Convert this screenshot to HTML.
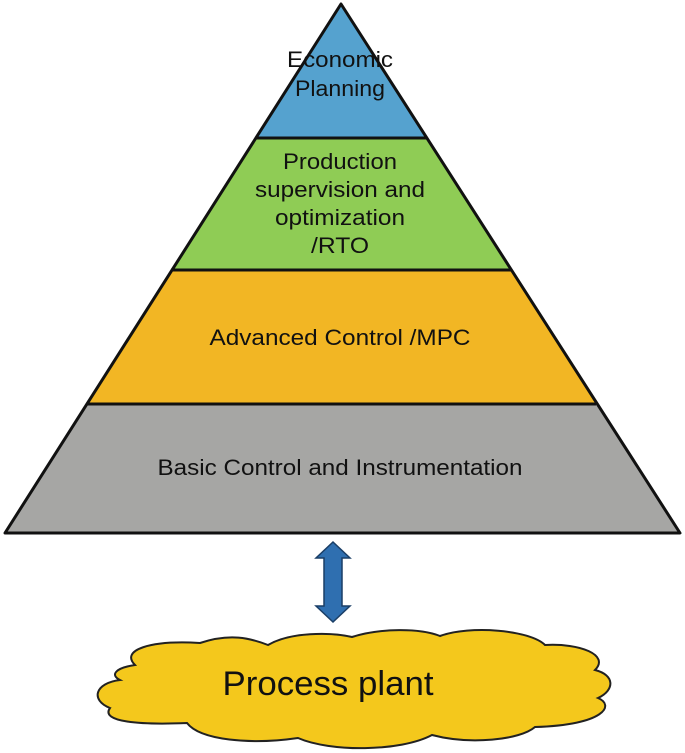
<!DOCTYPE html>
<html><head><style>body{margin:0;background:#fff}svg{display:block}</style></head>
<body>
<svg width="685" height="753" viewBox="0 0 685 753" xmlns="http://www.w3.org/2000/svg" font-family="Liberation Sans, sans-serif">
<polygon points="5,533 680,533 596,404 86,404" fill="#a6a6a4"/>
<polygon points="86,404 596,404 511,270 171,270" fill="#f2b624"/>
<polygon points="171,270 511,270 427,138 256,138" fill="#8fcc55"/>
<polygon points="256,138 427,138 341,4" fill="#55a2cf"/>
<g stroke="#111" stroke-width="3" fill="none">
<polygon points="341,4 680,533 5,533" stroke-linejoin="round"/>
<line x1="256" y1="138" x2="427" y2="138"/>
<line x1="171" y1="270" x2="511" y2="270"/>
<line x1="86" y1="404" x2="596" y2="404"/>
</g>
<g font-size="22" fill="#111" text-anchor="middle" textLength="1">
<text x="340" y="67" textLength="106" lengthAdjust="spacingAndGlyphs">Economic</text>
<text x="340" y="96" textLength="90" lengthAdjust="spacingAndGlyphs">Planning</text>
<text x="340" y="169" textLength="114" lengthAdjust="spacingAndGlyphs">Production</text>
<text x="340" y="197" textLength="170" lengthAdjust="spacingAndGlyphs">supervision and</text>
<text x="340" y="225" textLength="130" lengthAdjust="spacingAndGlyphs">optimization</text>
<text x="340" y="253" textLength="58" lengthAdjust="spacingAndGlyphs">/RTO</text>
<text x="340" y="345" textLength="261" lengthAdjust="spacingAndGlyphs">Advanced Control /MPC</text>
<text x="340" y="475" textLength="365" lengthAdjust="spacingAndGlyphs">Basic Control and Instrumentation</text>
</g>
<polygon points="333,542 350,558 342,558 342,606 350,606 333,622 316,606 324,606 324,558 316,558" fill="#2f6fb0" stroke="#1a3e66" stroke-width="1.5"/>
<path d="M135,665 C120,650 150,640 200,643 C230,633 250,638 268,645 C290,632 330,632 352,637 C380,628 420,628 440,636 C470,625 530,630 545,645 C580,643 610,655 595,670 C615,675 615,690 598,698 C615,705 605,725 535,727 C520,740 470,745 432,735 C400,752 330,752 298,738 C250,745 200,740 187,723 C140,725 100,722 110,708 C90,700 95,683 120,680 C110,675 115,668 135,665 Z" fill="#f4c81c" stroke="#222" stroke-width="2"/>
<text x="328" y="695" font-size="34" fill="#111" text-anchor="middle" textLength="211" lengthAdjust="spacingAndGlyphs">Process plant</text>
</svg>
</body></html>
